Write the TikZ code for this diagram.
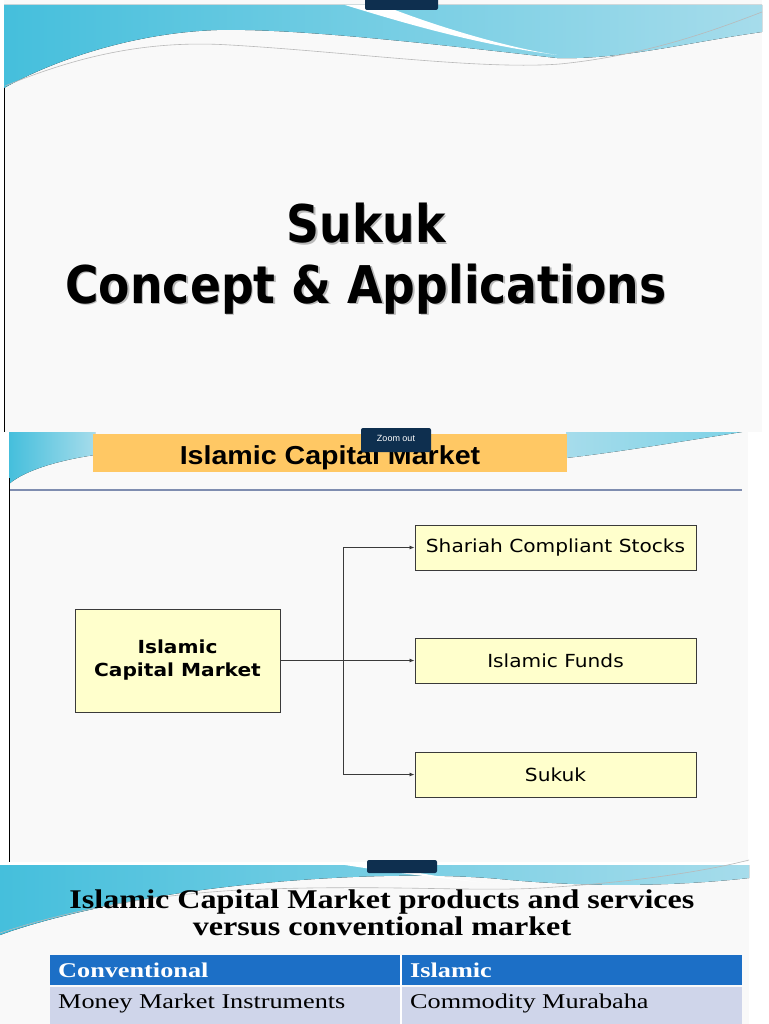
\documentclass[tikz,border=0pt]{standalone}
\usepackage{fontspec}
\usepackage{graphicx}
\setmainfont{DejaVu Sans}
\newfontfamily\arialf{Liberation Sans}
\newfontfamily\timesf{Liberation Serif}
\usetikzlibrary{arrows.meta}
\definecolor{slidebg}{HTML}{F9F9F9}
\definecolor{wavecyan}{HTML}{45BFDC}
\definecolor{wavelight}{HTML}{A6DCEB}
\definecolor{navy}{HTML}{0E2F4F}
\definecolor{boxfill}{HTML}{FFFFCC}
\definecolor{orangebox}{HTML}{FFC864}
\definecolor{hdrblue}{HTML}{1C6FC6}
\definecolor{rowlav}{HTML}{CFD5EA}
\definecolor{rulecol}{HTML}{7F8DB0}
\definecolor{edgecol}{HTML}{3A3A3A}
\newcommand\wideV[1]{\scalebox{1.12}[1]{#1}}
\newcommand\wideS[1]{\scalebox{1.25}[1]{#1}}
\tikzset{
  ybox/.style={draw=edgecol, fill=boxfill, line width=1pt, inner sep=0pt},
  link/.style={draw=edgecol, line width=0.8pt},
  tip/.style={-{Latex[length=5pt,width=4pt]}},
  wavefill/.style={left color=wavecyan, right color=wavelight},
  waveline/.style={draw=gray!55, line width=0.6pt},
  bigtitle/.style={anchor=base, font=\bfseries\fontsize{52}{52}\selectfont, xscale=0.88},
}
\begin{document}
\begin{tikzpicture}[x=1pt,y=-1pt]
\useasboundingbox (0,0) rectangle (768,1024);
\fill[white] (0,0) rectangle (768,1024);
% ---------- slide 1 ----------
\fill[slidebg] (4,0) rectangle (762,432);
\fill[wavefill] (4,5) -- (762,5) -- (762,32) .. controls (690,42) and (620,60) .. (557,58)
  .. controls (450,46) and (300,28) .. (217,30) .. controls (130,33) and (50,62) .. (4,88) -- cycle;
\fill[white] (345,5) -- (382,5) .. controls (440,28) and (510,48) .. (557,55)
  .. controls (480,45) and (410,25) .. (345,5) -- cycle;
\draw[waveline] (5,86) .. controls (80,55) and (150,40) .. (230,45) .. controls (350,52) and (480,70) .. (560,64) .. controls (650,55) and (720,28) .. (762,12);
\fill[navy, rounded corners=2pt] (365,-3) rectangle (438,10);
\draw[black, line width=0.8pt] (4,88) -- (4,432);
\node[bigtitle, text=gray!55] at (367.5,244.5) {Sukuk};
\node (t1) [bigtitle] at (366,243) {Sukuk};
\node[bigtitle, text=gray!55] at (367.5,304.5) {Concept \& Applications};
\node (t2) [bigtitle] at (366,303) {Concept \& Applications};
% ---------- slide 2 ----------
\fill[slidebg] (9,432) rectangle (748,862);
\fill[wavefill] (9,432) -- (95,432) -- (95,455) .. controls (60,460) and (25,470) .. (9,484) -- cycle;
\fill[left color=wavelight, right color=wavecyan!70] (566,432) -- (742,432) .. controls (690,440) and (620,452) .. (566,458) -- cycle;
\fill[orangebox] (93,434) rectangle (567,472);
\node (h2) [anchor=base, font=\arialf\bfseries\fontsize{26}{26}\selectfont, xscale=1.1] at (330,464) {Islamic Capital Market};
\fill[navy, rounded corners=2pt] (361,428) rectangle (431,452);
\node (zo) [font=\arialf\fontsize{9}{9}\selectfont, text=white] at (396,438) {Zoom out};
\draw[rulecol, line width=1.5pt] (9,490) -- (742,490);
\draw[black, line width=0.8pt] (9,478) -- (9,862);
\node (icm) [ybox, minimum width=205pt, minimum height=103pt, align=center, font=\bfseries\fontsize{18}{23}\selectfont] at (177.5,660.5) {\wideV{Islamic}\\\wideV{Capital Market}};
\node (b1) [ybox, minimum width=281pt, minimum height=45pt, font=\fontsize{18}{18}\selectfont] at (555.5,547.5) {\wideV{Shariah Compliant Stocks}};
\node (b2) [ybox, minimum width=281pt, minimum height=45pt, font=\fontsize{18}{18}\selectfont] at (555.5,660.5) {\wideV{Islamic Funds}};
\node (b3) [ybox, minimum width=281pt, minimum height=45pt, font=\fontsize{18}{18}\selectfont] at (555.5,774.5) {\wideV{Sukuk}};
\coordinate (J) at (343,660.5);
\draw[link] (icm.east) -- (J);
\draw[link, tip] (J) |- (b1.west);
\draw[link, tip] (J) -- (b2.west);
\draw[link, tip] (J) |- (b3.west);
% ---------- slide 3 ----------
\fill[slidebg] (0,865) rectangle (749,1024);
\fill[wavefill] (0,865) -- (749,865) -- (749,878) .. controls (660,888) and (570,886) .. (500,879)
  .. controls (400,870) and (250,880) .. (150,898) .. controls (80,910) and (30,924) .. (0,935) -- cycle;
\fill[white] (345,865) -- (380,865) .. controls (420,874) and (470,882) .. (500,884)
  .. controls (450,880) and (390,872) .. (345,865) -- cycle;
\draw[waveline] (0,933) .. controls (70,910) and (150,895) .. (240,890) .. controls (380,884) and (470,892) .. (540,888) .. controls (640,882) and (710,870) .. (749,860);
\fill[navy, rounded corners=2pt] (367,860) rectangle (437,873);
\node (h3a) [anchor=base, font=\timesf\bfseries\fontsize{27}{27}\selectfont, xscale=1.19] at (382,908) {Islamic Capital Market products and services};
\node (h3b) [anchor=base, font=\timesf\bfseries\fontsize{27}{27}\selectfont, xscale=1.19] at (382,935) {versus conventional market};
\fill[hdrblue] (50,955) rectangle (742,985);
\fill[rowlav] (50,987) rectangle (742,1024);
\draw[white, line width=1.5pt] (401,955) -- (401,1024);
\node (c1) [anchor=base west, inner sep=0pt, text=white, font=\timesf\bfseries\fontsize{21}{21}\selectfont] at (58,977) {\wideS{Conventional}};
\node (c2) [anchor=base west, inner sep=0pt, text=white, font=\timesf\bfseries\fontsize{21}{21}\selectfont] at (410,977) {\wideS{Islamic}};
\node (r1) [anchor=base west, inner sep=0pt, font=\timesf\fontsize{21}{21}\selectfont] at (58,1008) {\wideS{Money Market Instruments}};
\node (r2) [anchor=base west, inner sep=0pt, font=\timesf\fontsize{21}{21}\selectfont] at (410,1008) {\wideS{Commodity Murabaha}};
\end{tikzpicture}
\end{document}
